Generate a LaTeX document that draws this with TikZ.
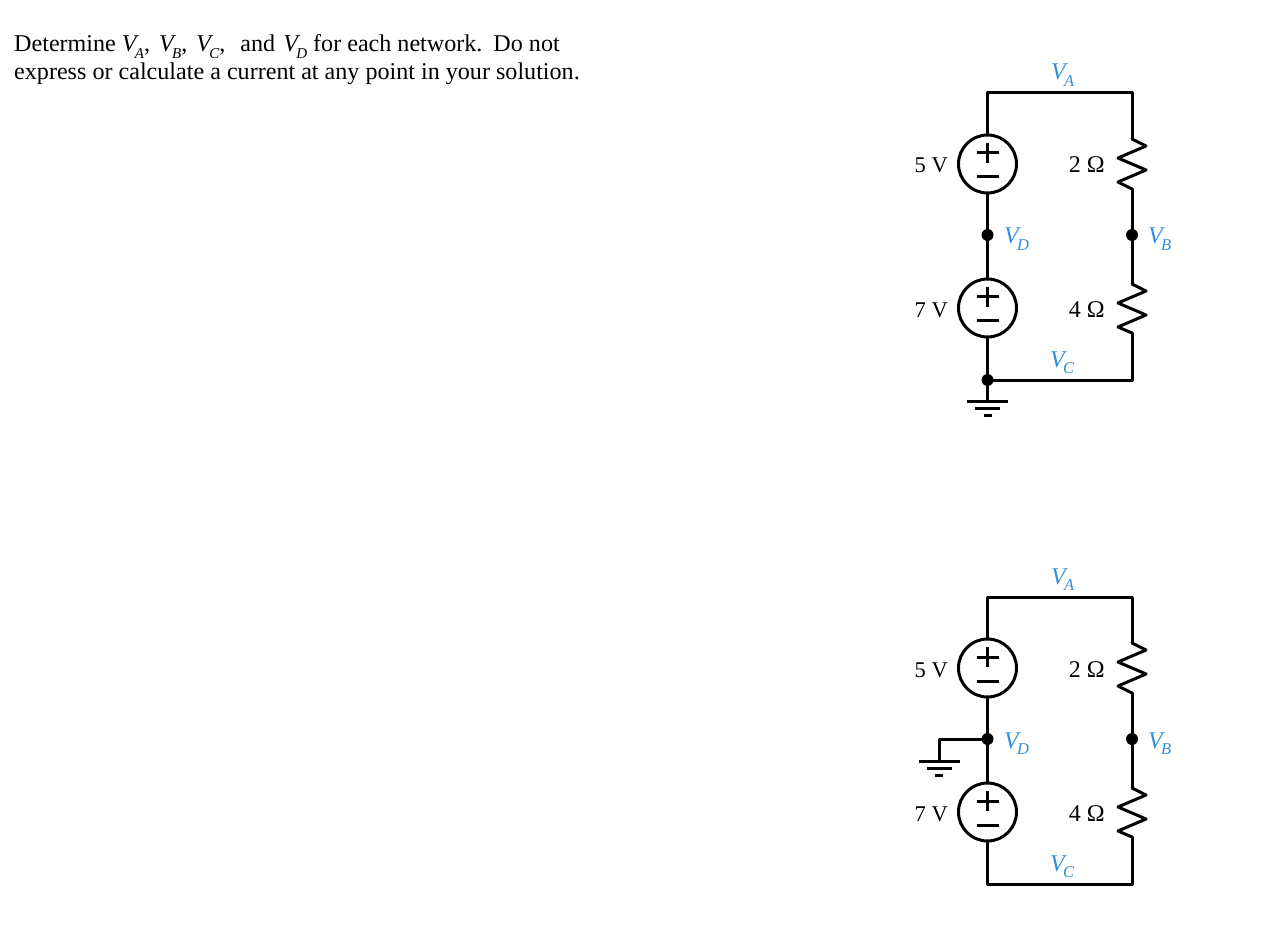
\documentclass[tikz,border=0pt]{standalone}
\usepackage{fontspec}
\setmainfont{Liberation Serif}
\definecolor{volt}{HTML}{2F8FD6}
\newcommand{\VS}[2][15]{{\itshape V\kern-0.07em\raisebox{-0.27em}{\fontsize{#1}{#1}\selectfont #2}}}
\tikzset{
  wire/.style={line width=3pt,line cap=round,line join=round,black},
  source/.style={circle,draw,line width=3pt,minimum size=58pt,inner sep=0pt},
  junction/.style={circle,fill=black,minimum size=12pt,inner sep=0pt},
  body/.style={font=\fontsize{24.1}{28}\selectfont,anchor=base west,inner sep=0pt,black},
  val/.style={font=\fontsize{22.5}{26}\selectfont,anchor=base east,inner sep=0pt,black},
  ohm/.style={font=\fontsize{24}{26}\selectfont,anchor=base east,inner sep=0pt,black},
  nodev/.style={font=\fontsize{24}{26}\selectfont,text=volt,anchor=base west,inner sep=0pt},
}
\newcommand{\srcmarks}[1]{%
  \draw[wire,line cap=butt] ([xshift=-11pt,yshift=11pt]#1.center) -- ([xshift=11pt,yshift=11pt]#1.center);
  \draw[wire,line cap=butt] ([yshift=21pt]#1.center) -- ([yshift=1pt]#1.center);
  \draw[wire,line cap=butt] ([xshift=-11pt,yshift=-13pt]#1.center) -- ([xshift=11pt,yshift=-13pt]#1.center);
}
\newcommand{\zig}[2]{%
  \draw[wire] (#1) -- ++(14,7) -- ++(-28,12) -- ++(28,12) -- ++(-28,12) -- (#2);
}
\newcommand{\gnd}[1]{%
  \draw[wire,line cap=butt] ([xshift=-20.5pt]#1) -- ([xshift=20.5pt]#1);
  \draw[wire,line cap=butt] ([xshift=-12.5pt,yshift=-7pt]#1) -- ([xshift=12.5pt,yshift=-7pt]#1);
  \draw[wire,line cap=butt] ([xshift=-4pt,yshift=-14pt]#1) -- ([xshift=4pt,yshift=-14pt]#1);
}
\begin{document}
\begin{tikzpicture}[x=1pt,y=-1pt]
\useasboundingbox (0,0) rectangle (1276,949);
\node[body] (line1) at (14,52) {Determine \VS{A}, \kern3pt\VS{B}, \kern3pt\VS{C},\kern15pt and \kern2pt\VS{D} for each network.\kern11pt Do not};
\node[body] (line2) at (14,80) {express or calculate a current at any point in your solution.};

% first network
\coordinate (tl) at (987.5,93);
\coordinate (tr) at (1132,93);
\coordinate (bl) at (987.5,380);
\coordinate (br) at (1132,380);
\node[source] (s1) at (987.5,164) {};
\node[source] (s2) at (987.5,308) {};
\node[junction] (jd) at (987.5,235) {};
\node[junction] (jb) at (1132,235) {};
\node[junction] (jc) at (987.5,380) {};
\coordinate (r1a) at (1132,139);
\coordinate (r1b) at (1132,189);
\coordinate (r2a) at (1132,284);
\coordinate (r2b) at (1132,333);
\coordinate (g1) at (987.5,401);
\draw[wire] (s1.north) -- (tl) -- (tr) -- (r1a);
\zig{r1a}{r1b}
\draw[wire] (r1b) -- (jb) -- (r2a);
\zig{r2a}{r2b}
\draw[wire] (r2b) -- (br) -- (jc);
\draw[wire] (s1.south) -- (jd) -- (s2.north);
\draw[wire] (s2.south) -- (jc) -- (g1);
\gnd{g1}
\srcmarks{s1}
\srcmarks{s2}
\node[val] (v5a) at (948,173) {5 V};
\node[val] (v7a) at (948,317) {7 V};
\node[ohm] (r2l) at (1105,173) {2 Ω};
\node[ohm] (r4l) at (1105,317) {4 Ω};
\node[nodev] (va) at (1051,80) {\VS[16.5]{A}};
\node[nodev] (vb) at (1148,244) {\VS[16.5]{B}};
\node[nodev] (vc) at (1050,367) {\VS[16.5]{C}};
\node[nodev] (vd) at (1004,244) {\VS[16.5]{D}};

% second network
\coordinate (tl2) at (987.5,597);
\coordinate (tr2) at (1132,597);
\coordinate (bl2) at (987.5,884);
\coordinate (br2) at (1132,884);
\node[source] (s3) at (987.5,668) {};
\node[source] (s4) at (987.5,812) {};
\node[junction] (jd2) at (987.5,739) {};
\node[junction] (jb2) at (1132,739) {};
\coordinate (r3a) at (1132,643);
\coordinate (r3b) at (1132,693);
\coordinate (r4a) at (1132,788);
\coordinate (r4b) at (1132,837);
\coordinate (gk) at (939,739);
\coordinate (g2) at (939,761);
\draw[wire] (s3.north) -- (tl2) -- (tr2) -- (r3a);
\zig{r3a}{r3b}
\draw[wire] (r3b) -- (jb2) -- (r4a);
\zig{r4a}{r4b}
\draw[wire] (r4b) -- (br2) -- (bl2) -- (s4.south);
\draw[wire] (s3.south) -- (jd2) -- (s4.north);
\draw[wire] (jd2) -- (gk) -- (g2);
\gnd{g2}
\srcmarks{s3}
\srcmarks{s4}
\node[val] (v5b) at (948,677) {5 V};
\node[val] (v7b) at (948,821) {7 V};
\node[ohm] (r2m) at (1105,677) {2 Ω};
\node[ohm] (r4m) at (1105,821) {4 Ω};
\node[nodev] (va2) at (1051,584) {\VS[16.5]{A}};
\node[nodev] (vb2) at (1148,748) {\VS[16.5]{B}};
\node[nodev] (vc2) at (1050,871) {\VS[16.5]{C}};
\node[nodev] (vd2) at (1004,748) {\VS[16.5]{D}};
\end{tikzpicture}
\end{document}
